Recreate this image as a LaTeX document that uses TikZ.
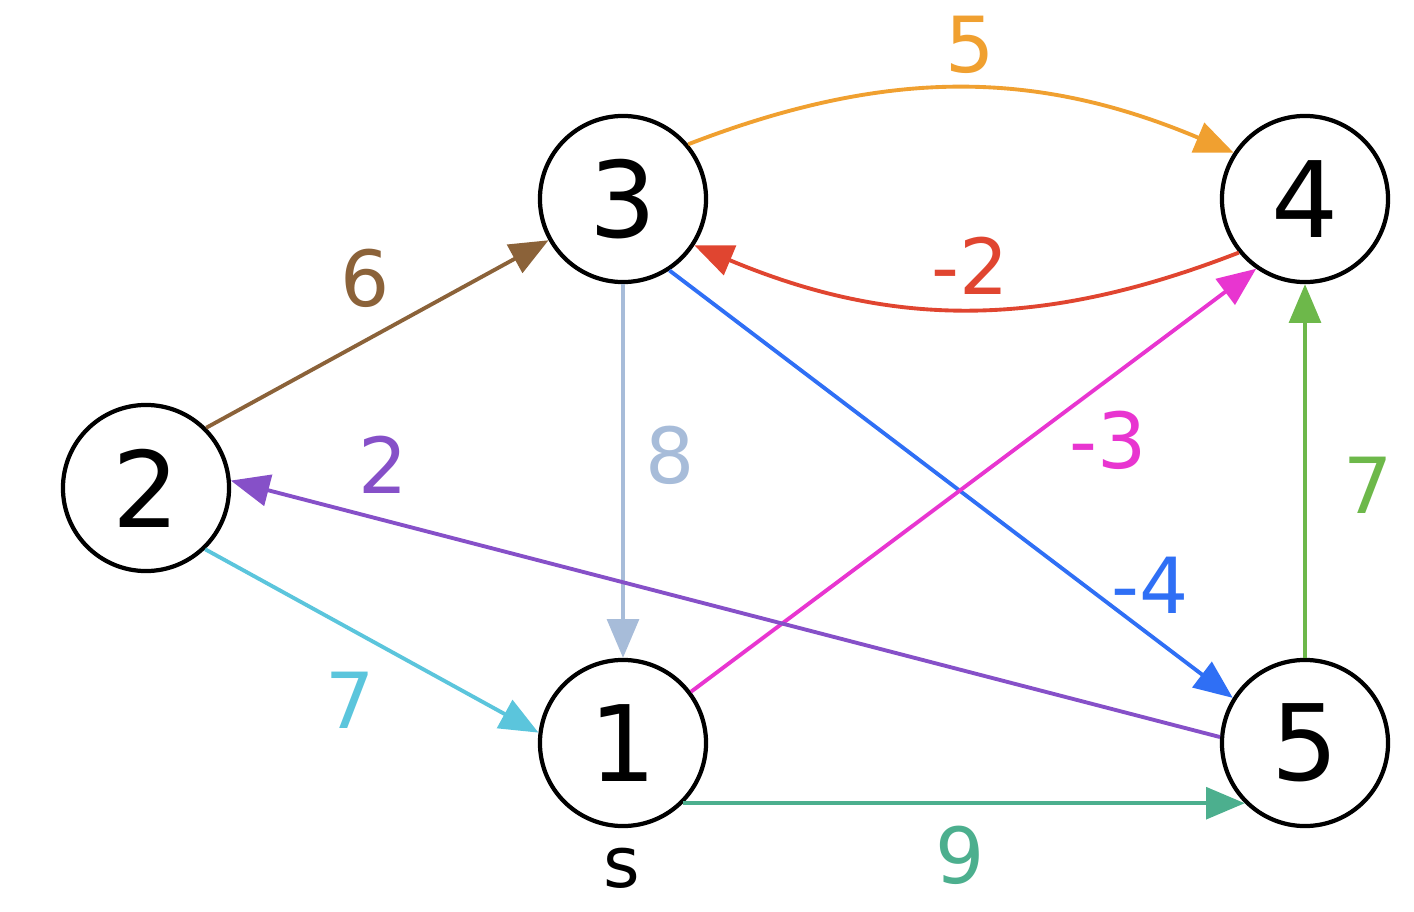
\documentclass[tikz,border=0pt]{standalone}
\usepackage{fontspec}
\setmainfont{DejaVu Sans}
\usetikzlibrary{arrows.meta}
\definecolor{cOr}{HTML}{F0A030}
\definecolor{cRed}{HTML}{E04530}
\definecolor{cBr}{HTML}{8B6239}
\definecolor{cLb}{HTML}{A7BCD9}
\definecolor{cBl}{HTML}{2F6FF5}
\definecolor{cMg}{HTML}{E835D0}
\definecolor{cPu}{HTML}{8650C8}
\definecolor{cCy}{HTML}{5BC5DC}
\definecolor{cTe}{HTML}{4CAF8E}
\definecolor{cGr}{HTML}{6DB84A}
\begin{document}
\begin{tikzpicture}[x=0.01cm,y=-0.01cm,
  vert/.style={circle,draw=black,line width=1.2pt,minimum size=1.66cm,inner sep=0pt,font=\fontsize{30}{32}\selectfont},
  edge/.style={line width=1.1pt,-{Triangle[length=11pt,width=9pt]}},
  lbl/.style={font=\fontsize{22}{24}\selectfont}]
\useasboundingbox (0,0) rectangle (1414,912);
\node[vert] (n3) at (623,199) {3};
\node[vert] (n4) at (1305,199) {4};
\node[vert] (n2) at (146,488) {2};
\node[vert] (n1) at (623,743) {1};
\node[vert] (n5) at (1305,743) {5};
\node[font=\fontsize{20}{22}\selectfont] (s) at (622,868) {s};
\draw[edge,cOr] (n3.40) to[bend left=22] (n4.147);
\draw[edge,cRed] (n4.219) to[bend left=22] (n3.-33);
\draw[edge,cBr] (n2.45) -- (n3.209);
\draw[edge,cLb] (n3) -- (n1);
\draw[edge,cBl] (n3.-57) -- (n5.148);
\draw[edge,cMg] (n1.37) -- (n4.235);
\draw[edge,cPu] (n5.176) -- (n2.5);
\draw[edge,cCy] (n2.-46) -- (n1.173);
\draw[edge,cTe] (n1.-45) -- (n5.-135);
\draw[edge,cGr] (n5) -- (n4);
\node[lbl,cOr] (l1) at (970,45) {5};
\node[lbl,cRed] (l2) at (970,266) {-2};
\node[lbl,cBr] (l3) at (365,278) {6};
\node[lbl,cLb] (l4) at (670,455) {8};
\node[lbl,cBl] (l5) at (1150,585) {-4};
\node[lbl,cMg] (l6) at (1108,440) {-3};
\node[lbl,cPu] (l7) at (383,465) {2};
\node[lbl,cCy] (l8) at (350,700) {7};
\node[lbl,cTe] (l9) at (960,855) {9};
\node[lbl,cGr] (l10) at (1368,485) {7};
\end{tikzpicture}
\end{document}
